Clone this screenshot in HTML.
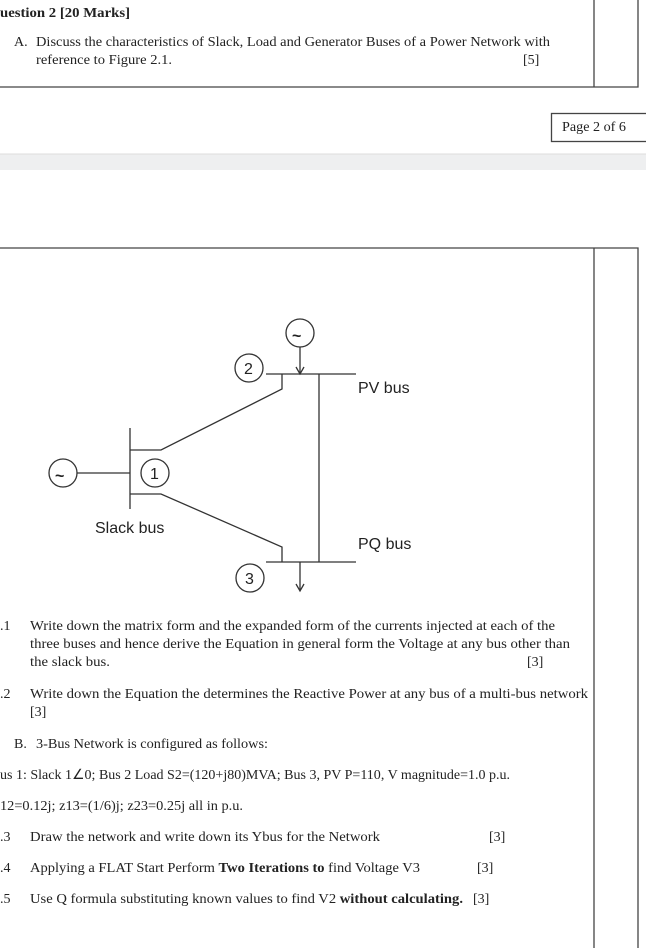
<!DOCTYPE html>
<html><head><meta charset="utf-8"><style>
body{margin:0;background:#fff}
svg{display:block}
text{font-family:"Liberation Serif",serif;font-size:14px;fill:#222}
.s{font-family:"Liberation Sans",sans-serif;font-size:16px}
</style></head><body>
<svg width="646" height="948" viewBox="0 0 646 948" xmlns="http://www.w3.org/2000/svg">
<g stroke="#444" stroke-width="1.3" fill="none">
<polyline points="0,87 638,87 638,0"/>
<line x1="594" y1="0" x2="594" y2="87"/>
<rect x="551.5" y="113.5" width="100" height="28"/>
<polyline points="0,248 638,248 638,948"/>
<line x1="594" y1="248" x2="594" y2="948"/>
</g>
<rect x="0" y="154" width="646" height="16" fill="#eeeff0"/>
<line x1="0" y1="154" x2="646" y2="154" stroke="#ddd"/>
<text x="0" y="17" font-weight="bold" textLength="130" lengthAdjust="spacingAndGlyphs">uestion 2 [20 Marks]</text>
<text x="14" y="46">A.</text>
<text x="36" y="46" textLength="514" lengthAdjust="spacingAndGlyphs">Discuss the characteristics of Slack, Load and Generator Buses of a Power Network with</text>
<text x="36" y="64" textLength="136" lengthAdjust="spacingAndGlyphs">reference to Figure 2.1.</text>
<text x="523" y="64">[5]</text>
<text x="562" y="131" textLength="64" lengthAdjust="spacingAndGlyphs">Page 2 of 6</text>

<g stroke="#333" stroke-width="1.3" fill="none">
<circle cx="300" cy="333" r="14"/>
<line x1="300" y1="347" x2="300" y2="373"/>
<polyline points="296,367 300,374 304,367"/>
<line x1="266" y1="374" x2="356" y2="374"/>
<line x1="319" y1="374" x2="319" y2="562"/>
<line x1="266" y1="562" x2="356" y2="562"/>
<polyline points="282,374 282,389 161,450 130,450"/>
<polyline points="130,494 161,494 282,547 282,562"/>
<line x1="130" y1="428" x2="130" y2="509"/>
<circle cx="63" cy="473" r="14"/>
<line x1="77" y1="473" x2="130" y2="473"/>
<circle cx="155" cy="473" r="14"/>
<circle cx="249" cy="368" r="14"/>
<circle cx="250" cy="578" r="14"/>
<line x1="300" y1="562" x2="300" y2="590"/>
<polyline points="296,584 300,591 304,584"/>
</g>
<text class="s" x="292" y="341" font-size="18" font-weight="bold">~</text>
<text class="s" x="55" y="481" font-size="18" font-weight="bold">~</text>
<text class="s" x="150" y="479" font-size="15">1</text>
<text class="s" x="244" y="374" font-size="15">2</text>
<text class="s" x="245" y="584" font-size="15">3</text>
<text class="s" x="358" y="393">PV bus</text>
<text class="s" x="95" y="533">Slack bus</text>
<text class="s" x="358" y="549">PQ bus</text>

<text x="0" y="630">.1</text>
<text x="30" y="630" textLength="525" lengthAdjust="spacingAndGlyphs">Write down the matrix form and the expanded form of the currents injected at each of the</text>
<text x="30" y="648" textLength="540" lengthAdjust="spacingAndGlyphs">three buses and hence derive the Equation in general form the Voltage at any bus other than</text>
<text x="30" y="666" textLength="80" lengthAdjust="spacingAndGlyphs">the slack bus.</text>
<text x="527" y="666">[3]</text>
<text x="0" y="698">.2</text>
<text x="30" y="698" textLength="558" lengthAdjust="spacingAndGlyphs">Write down the Equation the determines the Reactive Power at any bus of a multi-bus network</text>
<text x="30" y="716">[3]</text>
<text x="14" y="748">B.</text>
<text x="36" y="748" textLength="232" lengthAdjust="spacingAndGlyphs">3-Bus Network is configured as follows:</text>
<text x="0" y="779" textLength="510" lengthAdjust="spacingAndGlyphs">us 1: Slack 1∠0; Bus 2 Load S2=(120+j80)MVA; Bus 3, PV P=110, V magnitude=1.0 p.u.</text>
<text x="0" y="810" textLength="243" lengthAdjust="spacingAndGlyphs">12=0.12j; z13=(1/6)j; z23=0.25j all in p.u.</text>
<text x="0" y="841">.3</text>
<text x="30" y="841" textLength="350" lengthAdjust="spacingAndGlyphs">Draw the network and write down its Ybus for the Network</text>
<text x="489" y="841">[3]</text>
<text x="0" y="872">.4</text>
<text x="30" y="872" textLength="390" lengthAdjust="spacingAndGlyphs">Applying a FLAT Start Perform <tspan font-weight="bold">Two Iterations to</tspan> find Voltage V3</text>
<text x="477" y="872">[3]</text>
<text x="0" y="903">.5</text>
<text x="30" y="903" textLength="433" lengthAdjust="spacingAndGlyphs">Use Q formula substituting known values to find V2 <tspan font-weight="bold">without calculating.</tspan></text>
<text x="473" y="903">[3]</text>
</svg>
</body></html>
